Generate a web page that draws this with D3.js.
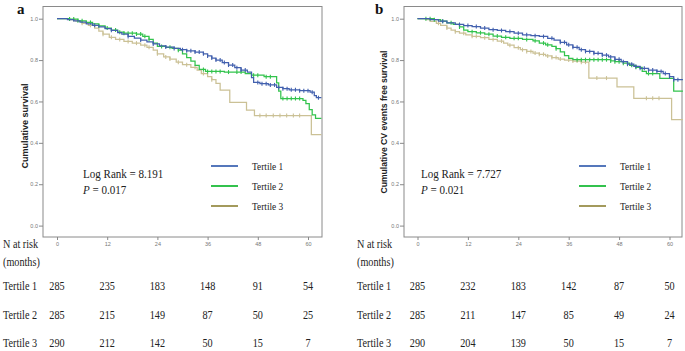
<!DOCTYPE html>
<html>
<head>
<meta charset="utf-8">
<script src="https://cdn.jsdelivr.net/npm/d3@7"></script>
<style>
  body { margin: 0; background: #fff; }
  svg { display: block; }
</style>
</head>
<body>
<div id="chart"></div>
<script>
// months shown on the x axis, and the survival ticks
const months = [0, 12, 24, 36, 48, 60];
const yTicks = [0, 0.2, 0.4, 0.6, 0.8, 1.0];
const groups = ["Tertile 1", "Tertile 2", "Tertile 3"];

// number at risk, one row per tertile
const riskA = [[285, 235, 183, 148, 91, 54], [285, 215, 149, 87, 50, 25], [290, 212, 142, 50, 15, 7]];
const riskB = [[285, 232, 183, 142, 87, 50], [285, 211, 147, 85, 49, 24], [290, 204, 139, 50, 15, 7]];

// panel a: [month, cumulative survival] at each step
const a1 = [[0,1],[2.5,0.995],[4,0.99],[5.5,0.984],[7,0.975],[8.5,0.968],[10,0.96],[11.5,0.952],[13,0.944],[14.5,0.933],[15.5,0.925],[17,0.914],[18.5,0.906],[20,0.897],[21.5,0.888],[23,0.878],[24.5,0.869],[26,0.863],[28,0.856],[29.5,0.85],[31,0.845],[33,0.839],[35,0.83],[36,0.82],[37,0.81],[38,0.8],[39.5,0.788],[41,0.776],[42.5,0.763],[44,0.752],[45.5,0.742],[46.5,0.715],[47,0.692],[48.5,0.686],[50.5,0.68],[52.5,0.668],[54,0.662],[55.5,0.656],[58,0.652],[60.5,0.645],[61.5,0.628],[62,0.618]];
const a2 = [[0,1],[3,0.998],[5,0.99],[7,0.982],[8.5,0.975],[10,0.965],[11.5,0.955],[13,0.945],[14.5,0.935],[16,0.93],[19,0.926],[20.5,0.915],[22,0.9],[23,0.882],[24,0.866],[26,0.862],[27.5,0.857],[29,0.848],[30,0.83],[31,0.812],[32,0.795],[33,0.775],[34,0.755],[35.5,0.745],[40,0.742],[45,0.735],[46.5,0.727],[49.5,0.72],[52.5,0.69],[53,0.65],[53.5,0.614],[58.8,0.605],[59.5,0.59],[60.3,0.56],[61,0.535],[61.8,0.518]];
const a3 = [[0,1],[3,0.995],[4.5,0.988],[6,0.978],[7.5,0.968],[9,0.955],[10,0.94],[11,0.925],[12.5,0.91],[14,0.9],[16,0.89],[18,0.882],[20,0.872],[21.5,0.862],[23,0.848],[24,0.83],[25.5,0.815],[27,0.805],[28.5,0.79],[30,0.778],[32,0.765],[33.5,0.752],[34.5,0.735],[36,0.72],[37,0.705],[38,0.688],[39,0.655],[41.3,0.595],[45.3,0.558],[47.2,0.532],[60.8,0.44]];

// panel b
const b1 = [[0,1],[3,0.995],[5,0.988],[7,0.98],[9,0.972],[11,0.967],[13,0.962],[15,0.955],[17,0.947],[19,0.943],[21,0.938],[23,0.93],[25,0.922],[27,0.918],[29,0.914],[31,0.905],[32.5,0.896],[34,0.886],[35.5,0.874],[37,0.862],[38.5,0.85],[40,0.842],[42,0.833],[44,0.824],[45.5,0.815],[47,0.804],[48.5,0.792],[50,0.78],[51.5,0.769],[53,0.76],[55,0.752],[57,0.745],[58.5,0.735],[60,0.72],[61,0.705]];
const b2 = [[0,1],[4,0.995],[5.5,0.988],[7,0.98],[8.5,0.972],[10,0.96],[11,0.945],[12,0.937],[14,0.932],[16,0.925],[18,0.916],[20,0.91],[22,0.905],[25,0.9],[27.5,0.893],[29,0.882],[30.5,0.874],[32,0.866],[33,0.855],[34,0.84],[35,0.822],[36,0.808],[37,0.802],[46,0.796],[47,0.792],[49,0.785],[50.5,0.775],[52,0.765],[53.5,0.745],[54.5,0.735],[57.7,0.712],[61,0.65]];
const b3 = [[0,1],[2,0.995],[3,0.987],[4.5,0.978],[5.5,0.968],[7,0.955],[8,0.945],[9,0.937],[10,0.93],[11.5,0.922],[13,0.915],[15,0.908],[17,0.9],[19,0.892],[20.5,0.882],[21.5,0.872],[23,0.86],[24.5,0.85],[26,0.842],[27.5,0.834],[29,0.828],[30.5,0.82],[32,0.812],[33.5,0.805],[35,0.8],[37,0.795],[39,0.79],[40.8,0.713],[47.5,0.67],[51.5,0.615],[60.5,0.512]];

// censored times (months)
const aC1 = [9,13,17,20,23,26,28,30,31,32,33,34,35,36,37,38,39,40,41,42,43,44,45,48,49,50,51,52,53,54,55,56,57,58,59,60,61,62.5];
const aC2 = [3,4,5,6,8,10,12,14,15,16,17,18,19,20,21,22,25,27,29,35,36,37,38,39,41,43,44,47,48,50,51,54,55,56,57,58];
const aC3 = [4,6,8,11,13,15,17,19,21,22,24,26,27,29,31,33,35,37,48.5,50,51.7,53.3,54.9,56.5,58];
const bC1 = [6,10,12,14,16,18,20,22,24,26,28,30,32,34,35,36,37,38,39,40,41,42,43,44,45,46,47,48,49,50,51,52,53,54,55,56,57,58,59,60,61,62];
const bC2 = [2,3,4,6,8,10,13,15,17,19,21,23,24,26,28,30,31,33,38,39,40,41,42,43,44,45,46,47,48,49,50,51,52,55,56];
const bC3 = [5,7,9,11,13,14,16,18,20,22,24,25,26,27,28,29,30,31,32,33,34,36,37,38,39,40,42.7,45,54.5,56,57.5];

const endMonth = 63.2;
const curveColors = ["#4260ae", "#32c34c", "#cbc196"];
const legendColors = ["#5577bb", "#33c24d", "#a39a5c"];
const serif = "'Liberation Serif', 'Times New Roman', serif";
const sans = "'Liberation Sans', Arial, sans-serif";

const svg = d3.select("#chart").append("svg")
  .attr("width", 685).attr("height", 351);

const y = d3.scaleLinear().domain([0, 1]).range([225.6, 18.7]);

const serifText = (g, x, yy, str, size, anchor) => g.append("text")
  .attr("transform", `translate(${x},${yy}) scale(0.85,1)`)
  .attr("font-family", serif)
  .attr("font-size", size)
  .attr("text-anchor", anchor || "start")
  .attr("fill", "#222")
  .text(str);

const stepValue = (steps, t) => {
  let v = steps[0][1];
  for (const s of steps) if (s[0] <= t) v = s[1];
  return v;
};

const drawPanel = (p) => {
  const g = svg.append("g");
  const x = d3.scaleLinear().domain([0, 60]).range(p.xRange);

  // frame
  g.append("rect")
    .attr("x", p.frame[0]).attr("y", 6.5)
    .attr("width", p.frame[1] - p.frame[0]).attr("height", 230.5)
    .attr("fill", "none").attr("stroke", "#8a8a8a").attr("stroke-width", 1);

  // y axis
  const yAxis = d3.axisLeft(y).tickValues(yTicks).tickFormat(d3.format(".1f")).tickSize(4).tickPadding(1);
  const ya = g.append("g").attr("transform", `translate(${p.frame[0]},0)`).call(yAxis);
  ya.select(".domain").remove();
  ya.selectAll("line").attr("stroke", "#888");
  ya.selectAll("text").attr("font-family", sans).attr("font-size", 5.5).attr("fill", "#777");

  // x axis
  const xAxis = d3.axisBottom(x).tickValues(months).tickSize(3).tickPadding(2);
  const xa = g.append("g").attr("transform", "translate(0,237)").call(xAxis);
  xa.select(".domain").remove();
  xa.selectAll("line").attr("stroke", "#888");
  xa.selectAll("text").attr("font-family", sans).attr("font-size", 5.5).attr("fill", "#777");

  // y label
  g.append("text")
    .attr("transform", `translate(${p.yLabel[0]},${p.yLabel[1]}) rotate(-90)`)
    .attr("text-anchor", "middle")
    .attr("font-family", sans).attr("font-weight", "bold").attr("font-size", 9.5)
    .attr("textLength", p.yLabel[2]).attr("lengthAdjust", "spacingAndGlyphs")
    .attr("fill", "#222")
    .text(p.yTitle);

  // panel letter
  g.append("text").attr("x", p.letterX).attr("y", 14)
    .attr("font-family", serif).attr("font-weight", "bold").attr("font-size", 15)
    .attr("fill", "#111").text(p.letter);

  // curves, tan first so blue and green sit on top
  [2, 1, 0].forEach(i => {
    const steps = p.curves[i];
    const pts = steps.map(d => [d[0], d[1]]).concat([[endMonth, steps[steps.length - 1][1]]]);
    const line = d3.line().x(d => x(d[0])).y(d => y(d[1])).curve(d3.curveStepAfter);
    g.append("path").attr("d", line(pts))
      .attr("fill", "none").attr("stroke", curveColors[i]).attr("stroke-width", 1.25);
    g.append("g").selectAll("line").data(p.censor[i]).join("line")
      .attr("x1", d => x(d)).attr("x2", d => x(d))
      .attr("y1", d => y(stepValue(steps, d)) - 2).attr("y2", d => y(stepValue(steps, d)) + 2)
      .attr("stroke", curveColors[i]).attr("stroke-width", 1.1);
  });

  // log rank text
  serifText(g, p.statX, 178, p.logRank, 13);
  const pt = g.append("text")
    .attr("transform", `translate(${p.statX},194) scale(0.85,1)`)
    .attr("font-family", serif).attr("font-size", 13).attr("fill", "#222");
  pt.append("tspan").attr("font-style", "italic").text("P");
  pt.append("tspan").text(" = " + p.pValue);

  // legend
  const legY = d3.scalePoint().domain(groups).range([166, 206]);
  groups.forEach((name, i) => {
    g.append("line")
      .attr("x1", p.legX).attr("x2", p.legX + 27)
      .attr("y1", legY(name)).attr("y2", legY(name))
      .attr("stroke", legendColors[i]).attr("stroke-width", 2);
    serifText(g, p.legX + 41, legY(name) + 4, name, 11);
  });

  // number at risk table
  serifText(g, p.tableX, 248, "N at risk", 12);
  serifText(g, p.tableX, 266, "(months)", 12);
  const rowY = d3.scalePoint().domain(groups).range([290, 347]);
  groups.forEach((name, i) => {
    serifText(g, p.tableX, rowY(name), name, 12);
    p.risk[i].forEach((n, j) => serifText(g, x(months[j]), rowY(name), String(n), 12, "middle"));
  });
};

drawPanel({
  letter: "a", letterX: 17,
  frame: [43, 322], xRange: [57, 308],
  yTitle: "Cumulative survival", yLabel: [27.5, 126, 85],
  curves: [a1, a2, a3], censor: [aC1, aC2, aC3],
  logRank: "Log Rank = 8.191", pValue: "0.017", statX: 83,
  legX: 211, tableX: 3, risk: riskA
});

drawPanel({
  letter: "b", letterX: 375,
  frame: [404, 682], xRange: [417.5, 669.5],
  yTitle: "Cumulative CV events free survival", yLabel: [386.5, 122, 143],
  curves: [b1, b2, b3], censor: [bC1, bC2, bC3],
  logRank: "Log Rank = 7.727", pValue: "0.021", statX: 421,
  legX: 579, tableX: 357, risk: riskB
});
</script>
</body>
</html>
